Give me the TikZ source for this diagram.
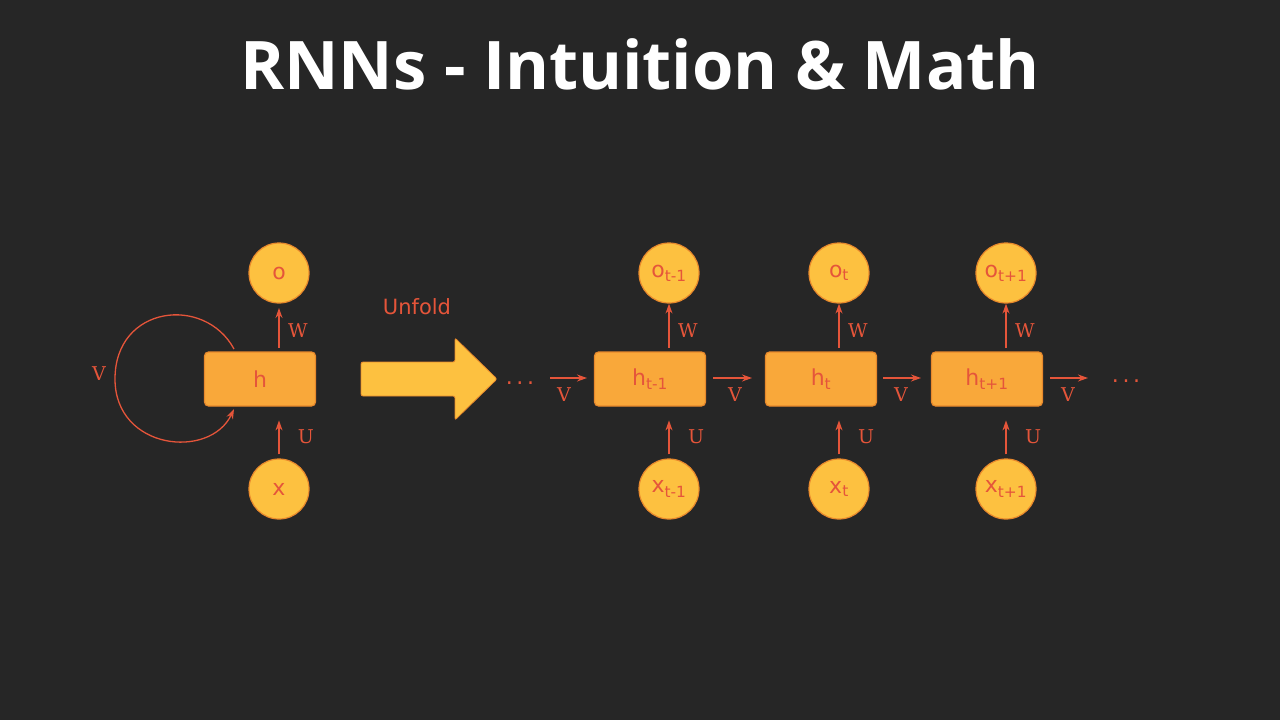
\documentclass[tikz,border=0pt]{standalone}
\usepackage{fontspec}
\setmainfont{DejaVu Sans}
\newfontfamily\titlefont{Open Sans}
\newfontfamily\wfont{DejaVu Serif}
\usetikzlibrary{arrows.meta}
\definecolor{bg}{HTML}{262626}
\definecolor{cfill}{HTML}{FDC140}
\definecolor{rfill}{HTML}{F9A83A}
\definecolor{edge}{HTML}{E8892C}
\definecolor{red}{HTML}{E5553A}
\tikzset{
 circ/.style={circle,fill=cfill,draw=edge,line width=1.2pt,minimum size=60pt,inner sep=0pt,text=red,font=\fontsize{22}{22}\selectfont},
 hbox/.style={rectangle,rounded corners=4pt,fill=rfill,draw=edge,line width=1.2pt,minimum width=111pt,minimum height=54pt,inner sep=0pt,text=red,font=\fontsize{22}{22}\selectfont},
 conn/.style={draw=red,line width=1.3pt,-{Stealth[length=10pt,width=7pt]}},
 wl/.style={text=red,font=\wfont\fontsize{19}{19}\selectfont},
 dots/.style={text=red,font=\fontsize{22}{22}\selectfont},
}
\begin{document}
\begin{tikzpicture}[x=1pt,y=-1pt]
\fill[bg] (0,0) rectangle (1280,720);
\useasboundingbox (0,0) rectangle (1280,720);
\node[text=white,font=\titlefont\bfseries\fontsize{67}{67}\selectfont] (title) at (640,64) {RNNs - Intuition \& Math};
% folded
\node[circ] (o) at (279,273) {o};
\node[hbox] (h) at (260,379) {h};
\node[circ] (x) at (279,489) {x};
\draw[conn] (279,348) -- (279,308);
\node[wl] (lw) at (298,331) {W};
\draw[conn] (x.north) ++(0,-4) -- ++(0,-34);
\node[wl] (lu) at (306,437) {U};
\coordinate (ls) at (234,349);
\coordinate (le) at (234,409);
\draw[conn] (ls) .. controls (205,295) and (115,305) .. (115,379) .. controls (115,450) and (210,460) .. (le);
\node[wl] (lv) at (99,374) {V};
\node[text=red,font=\fontsize{21}{21}\selectfont] (unfold) at (417,307) {Unfold};
\fill[cfill,draw=edge,line width=0.8pt,rounded corners=2pt] (361,362) -- (455,362) -- (455,338) -- (497,379) -- (455,420) -- (455,396) -- (361,396) -- cycle;
\node[dots] (d1) at (520,383) {.\,.\,.};
\node[dots] (d2) at (1126,381) {.\,.\,.};
% unfolded
\foreach \n/\cx/\bx/\s in {a/669/650/{t-1},b/839/821/t,c/1006/987/{t+1}}{
 \node[circ] (o\n) at (\cx,273) {o\textsubscript{\s}};
 \node[hbox] (h\n) at (\bx,379) {h\textsubscript{\s}};
 \node[circ] (x\n) at (\cx,489) {x\textsubscript{\s}};
 \draw[conn] (\cx,348) -- (o\n.south);
 \node[wl] at (\cx+19,331) {W};
 \draw[conn] (x\n.north) ++(0,-4) -- ++(0,-34);
 \node[wl] at (\cx+27,437) {U};
}
\foreach \a/\b/\l in {550/587/564,713/752/735,883/921/901,1050/1088/1068}{
 \draw[conn] (\a,378) -- (\b,378);
 \node[wl] at (\l,395) {V};
}
\end{tikzpicture}
\end{document}
